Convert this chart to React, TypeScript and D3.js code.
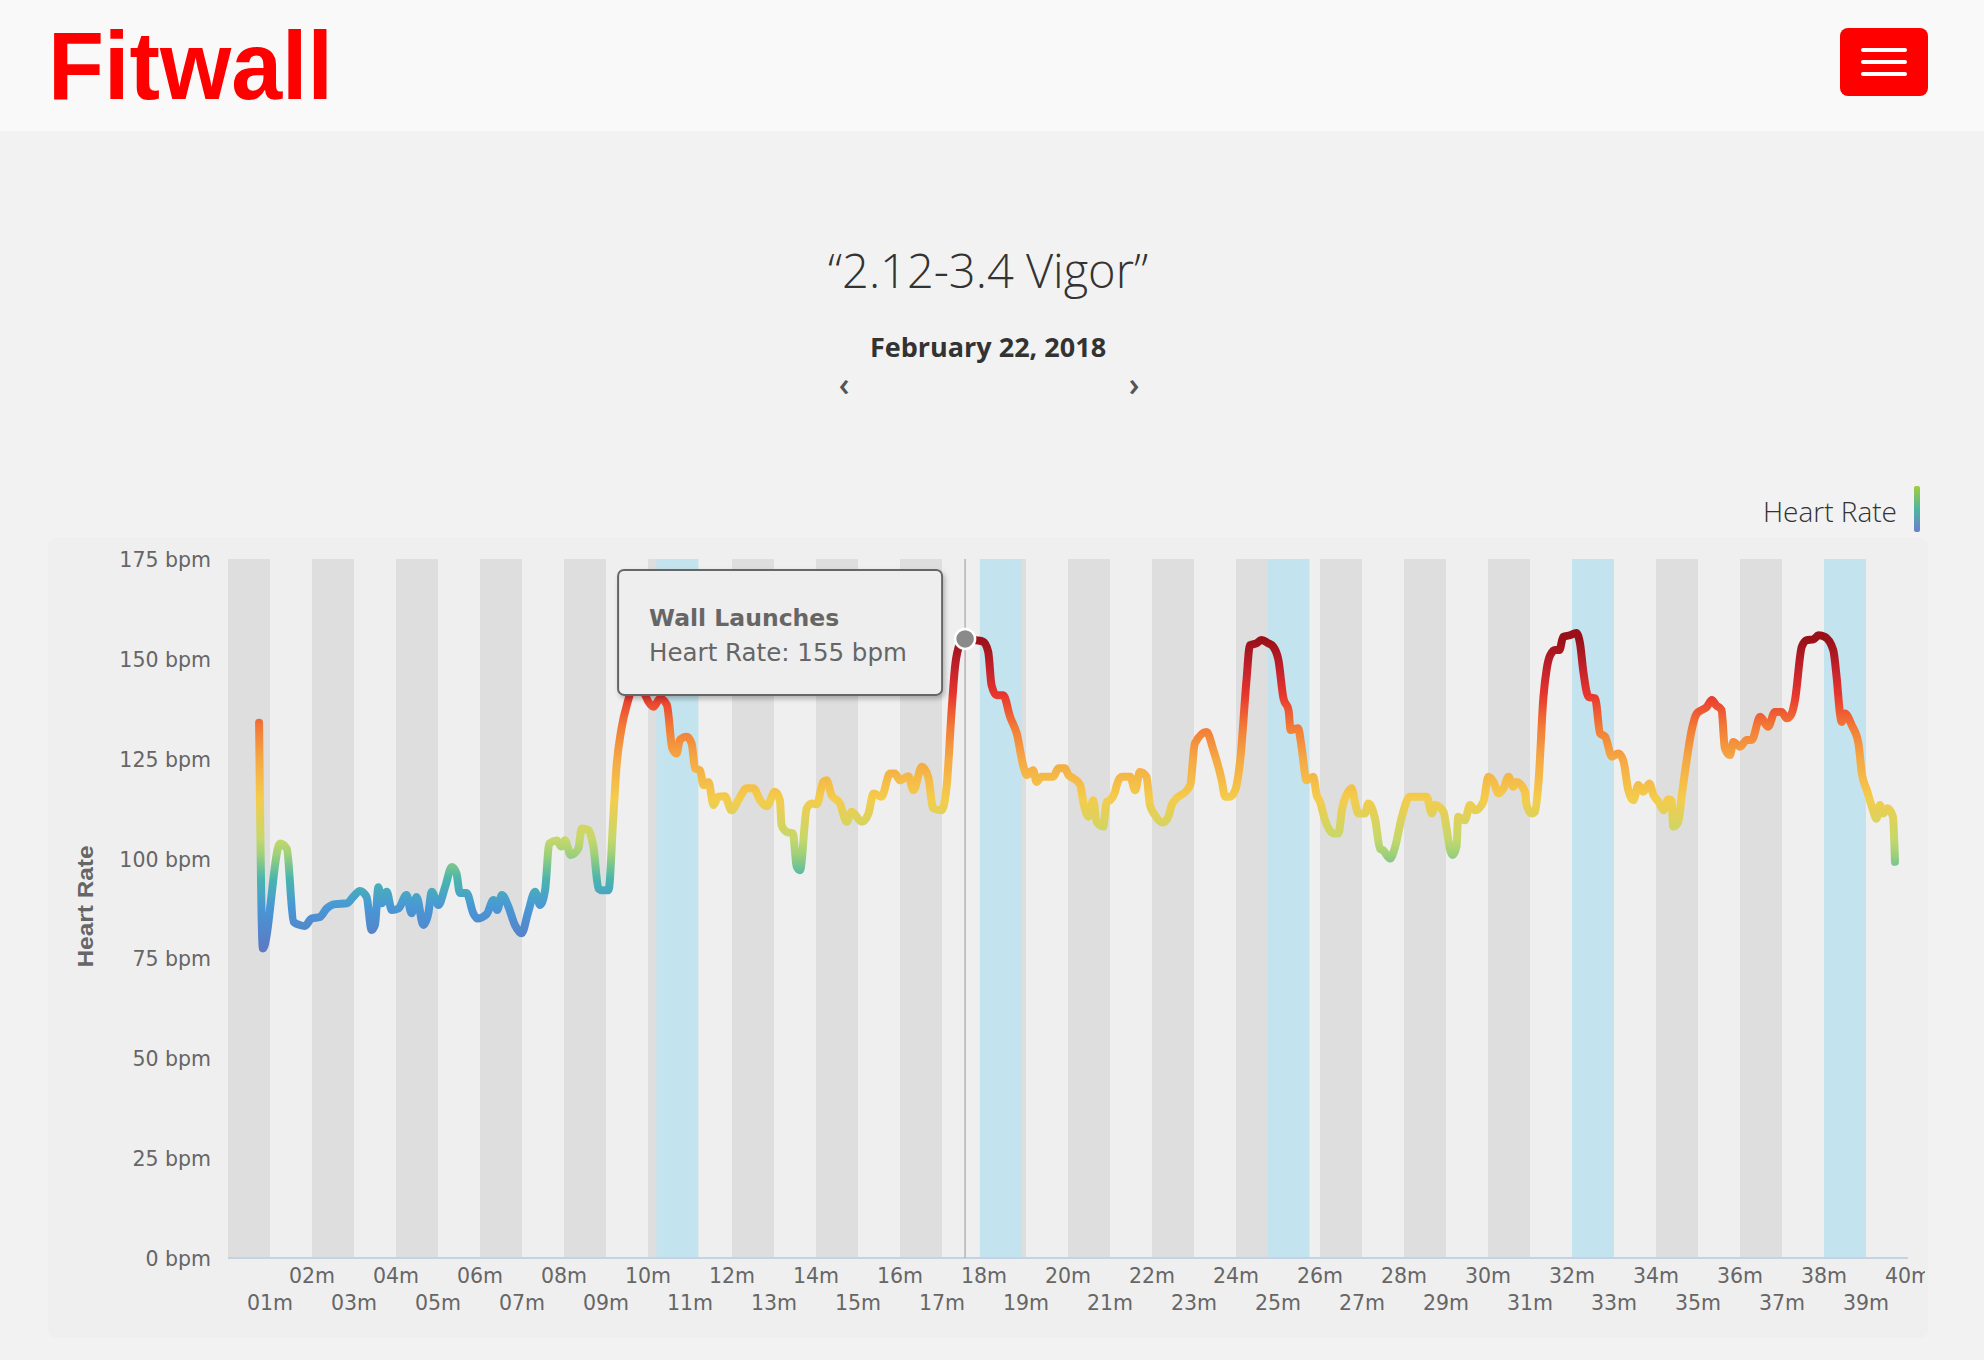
import React from "react";
import * as d3 from "d3";

// heart rate samples, minute of workout -> bpm
const sampleMinutes = [
  0.74, 0.83, 1.24, 1.4, 1.56, 1.7, 1.83, 1.99, 2.19, 2.35, 2.55, 2.83, 2.98, 3.14, 3.3, 3.42, 3.5, 3.58, 3.66, 3.78,
  3.9, 4.06, 4.25, 4.37, 4.49, 4.65, 4.77, 4.85, 5.01, 5.17, 5.33, 5.44, 5.52, 5.68, 5.84, 5.94, 6.16, 6.32, 6.41, 6.52,
  6.67, 6.83, 6.99, 7.15, 7.31, 7.43, 7.55, 7.65, 7.83, 7.94, 8.02, 8.16, 8.34, 8.42, 8.58, 8.7, 8.82, 8.9, 9.06, 9.17,
  9.25, 9.37, 9.53, 9.65, 9.78, 9.93, 10.13, 10.29, 10.45, 10.58, 10.68, 10.76, 10.92, 11.04, 11.12, 11.24, 11.32, 11.44, 11.56, 11.67,
  11.83, 11.99, 12.15, 12.35, 12.51, 12.67, 12.83, 13.02, 13.14, 13.18, 13.3, 13.45, 13.54, 13.62, 13.78, 13.9, 14.02, 14.17, 14.25, 14.37,
  14.57, 14.73, 14.85, 15.09, 15.25, 15.37, 15.56, 15.76, 15.88, 16.0, 16.2, 16.32, 16.52, 16.67, 16.79, 16.99, 17.11, 17.23, 17.31, 17.43,
  17.55, 17.79, 17.98, 18.1, 18.18, 18.3, 18.46, 18.62, 18.78, 18.94, 19.02, 19.17, 19.25, 19.37, 19.65, 19.77, 19.93, 20.01, 20.13, 20.29,
  20.37, 20.49, 20.6, 20.68, 20.84, 20.92, 21.0, 21.12, 21.16, 21.28, 21.48, 21.6, 21.71, 21.87, 21.95, 22.07, 22.25, 22.39, 22.47, 22.91,
  23.02, 23.3, 23.46, 23.66, 23.74, 23.86, 23.98, 24.1, 24.25, 24.33, 24.49, 24.6, 24.77, 24.89, 25.01, 25.13, 25.25, 25.3, 25.48, 25.56,
  25.68, 25.84, 25.92, 26.0, 26.12, 26.32, 26.44, 26.52, 26.67, 26.75, 26.83, 26.91, 27.07, 27.15, 27.31, 27.43, 27.51, 27.67, 27.79, 27.95,
  28.14, 28.54, 28.66, 28.74, 28.94, 29.02, 29.1, 29.16, 29.25, 29.29, 29.45, 29.57, 29.69, 29.89, 30.01, 30.13, 30.25, 30.37, 30.49, 30.6,
  30.68, 30.88, 30.92, 31.04, 31.12, 31.2, 31.32, 31.4, 31.48, 31.6, 31.7, 31.79, 31.95, 32.1, 32.19, 32.27, 32.39, 32.55, 32.67, 32.79,
  32.95, 33.1, 33.22, 33.34, 33.46, 33.58, 33.7, 33.84, 33.94, 34.06, 34.18, 34.29, 34.37, 34.41, 34.53, 34.61, 34.73, 34.85, 34.97, 35.09,
  35.21, 35.33, 35.43, 35.56, 35.64, 35.76, 35.84, 36.0, 36.16, 36.28, 36.48, 36.67, 36.83, 36.99, 37.11, 37.23, 37.31, 37.47, 37.59, 37.75,
  37.87, 38.02, 38.22, 38.3, 38.38, 38.42, 38.5, 38.66, 38.82, 38.9, 39.02, 39.14, 39.25, 39.33, 39.41, 39.51, 39.64, 39.69,
];

const heartRate = [
  134, 77.5, 103.8, 102.5, 84.2, 83.4, 83.1, 85, 85.4, 87.5, 88.6, 88.8, 90.4, 91.9, 90.4, 82.1, 83.4, 92.8, 88.8, 91.7,
  87.1, 87.5, 90.9, 86.3, 90.4, 83.4, 86.3, 91.7, 88.4, 92.9, 97.9, 96.3, 91.4, 91.4, 86.3, 85, 86.1, 89.6, 87.1, 90.9,
  88.1, 83.4, 81.3, 86.7, 91.7, 88.4, 92.1, 103.8, 104.5, 103, 104.6, 100.9, 102.5, 107.5, 107.1, 103, 92.5, 92.1, 92.1, 109.6,
  123, 132.6, 139.7, 143.8, 146, 141, 138, 140.1, 138.5, 127.5, 126.3, 129.7, 130.5, 128.8, 122.6, 122.1, 118.4, 119.2, 113.4, 115.5,
  115.6, 112.1, 114.6, 117.6, 117.6, 114.6, 113.1, 116.7, 114.6, 108.4, 106.7, 106.3, 98, 97.1, 112.6, 113.8, 113.6, 119.2, 119.6, 115.9,
  113.8, 109.2, 111.7, 109.2, 111.3, 116.3, 115.5, 121.3, 121.3, 119.6, 120.6, 117.1, 123, 120.5, 112.6, 112.1, 118, 137.2, 148, 153.9,
  155.4, 154.7, 154.3, 151.8, 143.4, 140.9, 140.9, 135.5, 131.3, 123, 120.9, 122.1, 119.2, 120.5, 120.5, 122.6, 122.6, 120.9, 120.1, 118.4,
  113.8, 110.5, 114.6, 109.2, 108, 114.2, 114.6, 116.7, 118.4, 120.5, 120.5, 117.1, 121.7, 120.5, 113.4, 110.9, 109, 110.5, 113.4, 118.4,
  128.8, 131.7, 127.2, 119.6, 115.5, 115.5, 117.1, 124.6, 144.7, 153.4, 153.9, 154.7, 153.9, 153, 149.7, 140.1, 137.2, 132.2, 132.6, 128,
  119.6, 120.5, 115.9, 114.2, 109.6, 106.3, 106.3, 112.1, 116.7, 117.6, 114.2, 111.3, 111.3, 113.8, 110, 102.5, 102, 100, 103, 110.5,
  115.5, 115.5, 111.3, 113.4, 111.7, 107.1, 102.1, 100.9, 103, 110.5, 109.6, 113.4, 112.1, 114.2, 120.5, 119.2, 116.3, 117.6, 120.5, 118,
  119.2, 116.7, 113.4, 111.3, 111.7, 118.8, 140.5, 147.6, 150.9, 152.2, 152.2, 155.5, 155.9, 156.5, 153.9, 146.8, 140.5, 140.1, 131.3, 130.5,
  125.5, 126.3, 124.6, 117.1, 114.6, 118.4, 116.7, 118.8, 115.9, 114.2, 112.1, 114.8, 114.6, 108, 109.2, 115.5, 124.6, 132.2, 136.3, 137.2,
  138, 139.7, 138.4, 137.2, 127.6, 125.9, 129.2, 128, 129.7, 129.7, 135.5, 133, 136.7, 136.7, 135.1, 136.3, 139.7, 153, 154.7, 154.9,
  155.9, 155.5, 152.2, 145.5, 136.3, 134.2, 136.3, 133.4, 128.8, 121.3, 117.1, 113, 110, 113.4, 111.3, 112.6, 110.5, 99.2,
];

// minute where each wall launch starts (each lasts one minute)
const wallLaunchStarts = [10.2, 17.9, 24.75, 32, 38];

const yTicks = [0, 25, 50, 75, 100, 125, 150, 175];
const minuteTicks = d3.range(1, 41);

// gradient along bpm
const stopBpm = [78, 88, 95, 101, 105, 115, 125, 133, 141, 148, 155];
const stopColor = ["#5b7bc4", "#4898d6", "#4ab6ac", "#9ed07a", "#c6d86a", "#f4cc4c", "#f5a843", "#f27a36", "#e8362e", "#c0202a", "#9a1018"];

// hovered point
const hoverMinute = 17.55;
const hoverBpm = 155;
const tooltipTitle = "Wall Launches";

const W = 1984;
const H = 1360;
const tickFont = "'DejaVu Sans', Verdana, sans-serif";

export default function App() {
  const x = d3.scaleLinear().domain([0, 40]).range([228, 1908]);
  const y = d3.scaleLinear().domain([0, 175]).range([1258, 559]);

  const linePath = d3
    .line<number>()
    .x((_, i) => x(sampleMinutes[i]))
    .y((d) => y(d))
    .curve(d3.curveMonotoneX)(heartRate);

  const grayBands = d3.range(0, 40, 2);
  const plotTop = y(175);
  const plotBottom = y(0);

  const mx = x(hoverMinute);
  const my = y(hoverBpm);

  return (
    <svg width={W} height={H} style={{ position: "absolute", left: 0, top: 0, display: "block" }}>
      <defs>
        <linearGradient id="hrGrad" gradientUnits="userSpaceOnUse" x1={0} x2={0} y1={y(stopBpm[0])} y2={y(stopBpm[stopBpm.length - 1])}>
          {stopBpm.map((b, i) => (
            <stop key={i} offset={(b - stopBpm[0]) / (stopBpm[stopBpm.length - 1] - stopBpm[0])} stopColor={stopColor[i]} />
          ))}
        </linearGradient>
        <linearGradient id="legendGrad" x1={0} x2={0} y1={0} y2={1}>
          <stop offset="0" stopColor="#a3cd3c" />
          <stop offset="0.5" stopColor="#4fb5a0" />
          <stop offset="1" stopColor="#6a7ed0" />
        </linearGradient>
        <clipPath id="panelClip">
          <rect x={48} y={538} width={1877} height={800} />
        </clipPath>
        <filter id="tipShadow" x="-10%" y="-10%" width="130%" height="140%">
          <feDropShadow dx={2} dy={3} stdDeviation={2.5} floodColor="#000" floodOpacity={0.25} />
        </filter>
      </defs>

      {/* page */}
      <rect x={0} y={0} width={W} height={H} fill="#f2f2f2" />
      <rect x={0} y={0} width={W} height={131} fill="#f9f9f9" />
      <text
        x={48}
        y={99}
        fill="#ff0000"
        fontFamily="'Liberation Sans', Arial, sans-serif"
        fontWeight={700}
        fontSize={97}
        textLength={285}
        lengthAdjust="spacingAndGlyphs"
      >
        Fitwall
      </text>
      <rect x={1840} y={28} width={88} height={68} rx={8} fill="#ff0000" />
      {[50, 62, 74].map((ly) => (
        <line key={ly} x1={1863} x2={1905} y1={ly} y2={ly} stroke="#fff" strokeWidth={4} strokeLinecap="round" />
      ))}

      {/* titles */}
      <text x={988} y={288} textAnchor="middle" fontFamily="'Open Sans', sans-serif" fontWeight={300} fontSize={47} fill="#333">
        “2.12-3.4 Vigor”
      </text>
      <text x={988} y={357} textAnchor="middle" fontFamily="'Open Sans', sans-serif" fontWeight={700} fontSize={27} fill="#333">
        February 22, 2018
      </text>
      <text x={844} y={396} textAnchor="middle" fontFamily="'Open Sans', sans-serif" fontWeight={600} fontSize={32} fill="#555">
        ‹
      </text>
      <text x={1134} y={396} textAnchor="middle" fontFamily="'Open Sans', sans-serif" fontWeight={600} fontSize={32} fill="#555">
        ›
      </text>

      {/* legend */}
      <text x={1897} y={522} textAnchor="end" fontFamily="'Open Sans', sans-serif" fontWeight={300} fontSize={28} fill="#333">
        Heart Rate
      </text>
      <rect x={1914} y={486} width={6} height={46} rx={2} fill="url(#legendGrad)" />

      {/* chart panel */}
      <rect x={48} y={538} width={1880} height={800} rx={8} fill="#efefef" />
      <g clipPath="url(#panelClip)">
        {grayBands.map((m) => (
          <rect key={m} x={x(m)} y={plotTop} width={x(m + 1) - x(m)} height={plotBottom - plotTop} fill="#dedede" />
        ))}
        {wallLaunchStarts.map((m) => (
          <rect key={m} x={x(m)} y={plotTop} width={x(m + 1) - x(m)} height={plotBottom - plotTop} fill="#c3e3ee" />
        ))}
        <line x1={x(0)} x2={x(40)} y1={plotBottom} y2={plotBottom} stroke="#c4d3e2" strokeWidth={2} />

        {yTicks.map((v) => (
          <text key={v} x={211} y={y(v) + 8} textAnchor="end" fontFamily={tickFont} fontSize={20.5} fill="#666">
            {`${v} bpm`}
          </text>
        ))}
        {minuteTicks.map((m) => (
          <text
            key={m}
            x={x(m)}
            y={m % 2 === 0 ? 1283 : 1310}
            textAnchor="middle"
            fontFamily={tickFont}
            fontSize={20.5}
            fill="#666"
          >
            {`${String(m).padStart(2, "0")}m`}
          </text>
        ))}
        <text
          transform={`translate(93,${(plotTop + plotBottom) / 2 - 2}) rotate(-90)`}
          textAnchor="middle"
          fontFamily="'Liberation Sans Narrow', 'Liberation Sans', Arial, sans-serif"
          fontWeight={700}
          fontSize={22}
          fill="#666"
          textLength={122}
          lengthAdjust="spacingAndGlyphs"
        >
          Heart Rate
        </text>

        {/* crosshair */}
        <line x1={mx} x2={mx} y1={plotTop} y2={plotBottom} stroke="#b4b4b4" strokeWidth={1.5} />

        <path d={linePath ?? ""} fill="none" stroke="url(#hrGrad)" strokeWidth={8} strokeLinecap="round" strokeLinejoin="round" />

        <circle cx={mx} cy={my} r={10} fill="#8a8a8a" stroke="#fff" strokeWidth={2.5} />

        {/* tooltip */}
        <g transform={`translate(${mx - 347},${my - 69})`}>
          <rect x={0} y={0} width={324} height={125} rx={6} fill="#eeeeee" stroke="#666" strokeWidth={2} filter="url(#tipShadow)" />
          <text x={31} y={56} fontFamily={tickFont} fontWeight={700} fontSize={23.5} fill="#666">
            {tooltipTitle}
          </text>
          <text x={31} y={91} fontFamily={tickFont} fontSize={24.5} fill="#666">
            {`Heart Rate: ${hoverBpm} bpm`}
          </text>
        </g>
      </g>
    </svg>
  );
}
